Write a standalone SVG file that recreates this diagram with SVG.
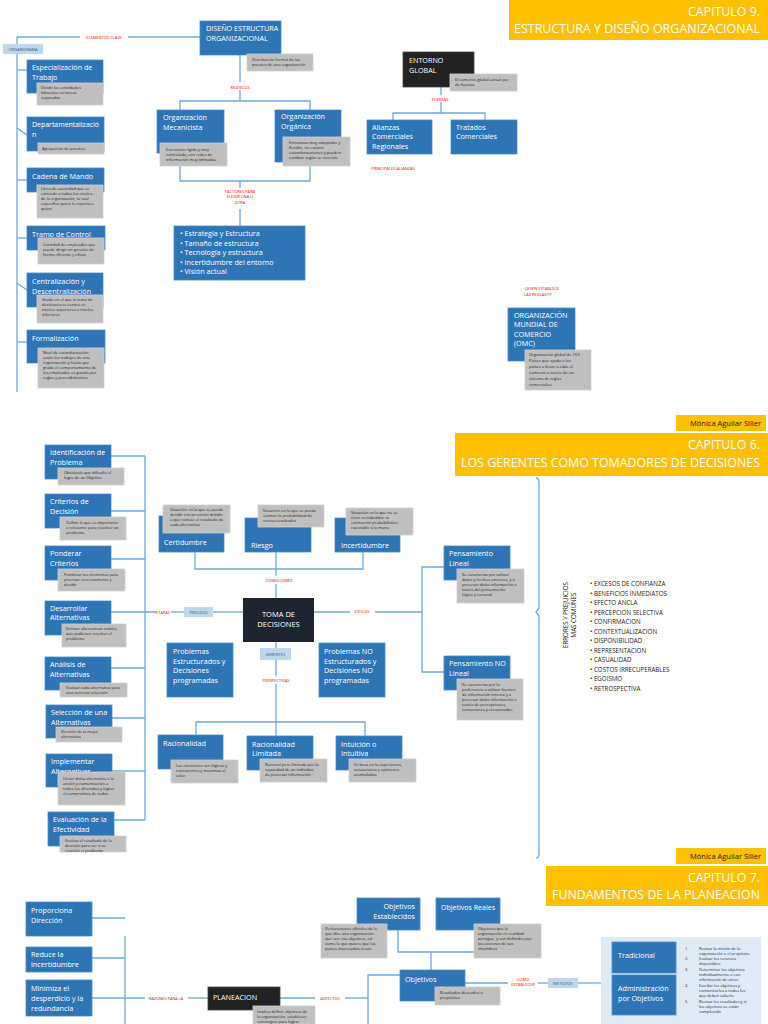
<svg xmlns="http://www.w3.org/2000/svg" width="768" height="1024" viewBox="0 0 768 1024">
<style>
text{font-family:"Open Sans","Noto Sans",sans-serif}
.b{fill:#2e75b6;stroke:#4a8ccc;stroke-width:0.8}
.k{fill:#222;stroke:#444;stroke-width:0.8}
.d{fill:#1f2530}
.g{fill:#bfbfbf;stroke:#cfcfcf;stroke-width:0.8}
.y{fill:#ffc000}
.lb{fill:#bdd7ee}
.t{fill:#fff;font-size:7.2px}
.n{fill:#222;font-size:4px}
.r{fill:#ff0000;font-size:4px;text-anchor:middle}
.h{fill:#fff;font-size:13px;text-anchor:end}
.c line,.c path,.c polyline{stroke:#6fa8dc;stroke-width:1.3;fill:none}
.s{fill:#44546a;font-size:4px;text-anchor:middle}
.li{fill:#222;font-size:6.2px}
</style>
<rect width="768" height="1024" fill="#fff"/>

<!-- headers -->
<g id="hdr9"><rect class="y" x="509" y="0" width="259" height="40"/><text class="h" x="760" y="16" textLength="72" lengthAdjust="spacingAndGlyphs">CAPITULO 9.</text><text class="h" x="760" y="33" textLength="246" lengthAdjust="spacingAndGlyphs">ESTRUCTURA Y DISEÑO ORGANIZACIONAL</text></g>
<g id="autor1"><rect class="y" x="676" y="415" width="90" height="16"/><text x="761" y="426" font-size="7.5" text-anchor="end" fill="#222">Mónica Aguilar Siller</text></g>
<g id="hdr6"><rect class="y" x="455" y="433" width="313" height="43"/><text class="h" x="760" y="449" textLength="72" lengthAdjust="spacingAndGlyphs">CAPITULO 6.</text><text class="h" x="760" y="467" textLength="299" lengthAdjust="spacingAndGlyphs">LOS GERENTES COMO TOMADORES DE DECISIONES</text></g>
<g id="autor2"><rect class="y" x="676" y="848" width="90" height="16"/><text x="761" y="859" font-size="7.5" text-anchor="end" fill="#222">Mónica Aguilar Siller</text></g>
<g id="hdr7"><rect class="y" x="546" y="866" width="222" height="40"/><text class="h" x="760" y="882" textLength="72" lengthAdjust="spacingAndGlyphs">CAPITULO 7.</text><text class="h" x="760" y="899" textLength="208" lengthAdjust="spacingAndGlyphs">FUNDAMENTOS DE LA PLANEACION</text></g>

<g class="c" id="connectors">
<line x1="17" y1="37" x2="17" y2="392"/>
<polyline points="17,37 80,37"/><polyline points="128,37 200,37"/>
<line x1="17" y1="70" x2="27" y2="70"/><line x1="17" y1="128" x2="27" y2="135"/><line x1="17" y1="180" x2="27" y2="180"/>
<line x1="17" y1="238" x2="27" y2="238"/><line x1="17" y1="283" x2="27" y2="290"/><line x1="17" y1="342" x2="27" y2="342"/>
<line x1="240" y1="55" x2="240" y2="82"/><line x1="240" y1="90" x2="240" y2="101"/>
<polyline points="180,110 180,101 310,101 310,110"/>
<polyline points="180,166 180,181 310,181 310,166"/>
<line x1="240" y1="181" x2="240" y2="188"/><line x1="240" y1="209" x2="240" y2="226"/>
<line x1="441" y1="87" x2="441" y2="95"/><line x1="441" y1="102" x2="441" y2="113"/>
<polyline points="393,120 393,113 485,113 485,120"/>
<line x1="145" y1="456" x2="145" y2="820"/>
<line x1="111" y1="456" x2="145" y2="456"/><line x1="111" y1="511" x2="145" y2="511"/><line x1="111" y1="559" x2="145" y2="559"/>
<line x1="111" y1="612" x2="156" y2="612"/><line x1="111" y1="668" x2="145" y2="668"/><line x1="111" y1="718" x2="145" y2="718"/>
<line x1="111" y1="771" x2="145" y2="771"/><line x1="111" y1="820" x2="145" y2="820"/>
<line x1="171" y1="612" x2="184" y2="612"/><line x1="213" y1="612" x2="243" y2="612"/>
<polyline points="195,552 195,569 363,569 363,552"/><line x1="276" y1="552" x2="276" y2="576"/><line x1="276" y1="584" x2="276" y2="598"/>
<line x1="314" y1="612" x2="350" y2="612"/><line x1="375" y1="612" x2="422" y2="612"/>
<polyline points="444,567 422,567 422,672 444,672"/>
<path d="M536,478 Q539,478 539,482 L539,608 L536,612 L539,616 L539,854 Q539,858 536,858"/>
<line x1="276" y1="642" x2="276" y2="648"/><line x1="276" y1="660" x2="276" y2="676"/><line x1="276" y1="684" x2="276" y2="722"/>
<polyline points="196,735 196,722 365,722 365,736"/><line x1="276" y1="722" x2="276" y2="736"/>
<line x1="125" y1="936" x2="125" y2="1024"/>
<line x1="92" y1="918" x2="125" y2="918"/><line x1="92" y1="958" x2="125" y2="958"/><line x1="92" y1="998" x2="145" y2="998"/>
<line x1="188" y1="998" x2="208" y2="998"/>
<line x1="280" y1="998" x2="315" y2="998"/><line x1="345" y1="998" x2="368" y2="998"/>
<polyline points="400,975 368,975 368,1024"/>
<polyline points="398,930 398,952 480,952 480,930"/><line x1="431" y1="952" x2="431" y2="970"/>
<line x1="465" y1="983" x2="508" y2="983"/><line x1="538" y1="983" x2="548" y2="983"/><line x1="578" y1="983" x2="601" y2="983"/>
</g>

<g id="organigrama"><rect class="lb" x="3" y="44" width="40" height="10"/><text class="s" x="23" y="50.5">ORGANIGRAMA</text></g>
<text class="r" x="104" y="39">ELEMENTOS CLAVE</text>
<g id="espec"><rect class="b" x="27" y="60" width="76" height="33"/><text class="t" x="32" y="70">Especialización de</text><text class="t" x="32" y="80">Trabajo</text>
<rect class="g" x="37" y="83" width="66" height="22"/><text class="n" x="41" y="89">Dividir las actividades</text><text class="n" x="41" y="94">laborales en tareas</text><text class="n" x="41" y="99">separadas</text></g>
<g id="depto"><rect class="b" x="27" y="117" width="77" height="34"/><text class="t" x="32" y="127" textLength="67" lengthAdjust="spacingAndGlyphs">Departamentalizació</text><text class="t" x="32" y="137">n</text>
<rect class="g" x="38" y="143" width="66" height="11"/><text class="n" x="42" y="150">Agrupación de puestos</text></g>
<g id="cadena"><rect class="b" x="27" y="168" width="77" height="24"/><text class="t" x="32" y="179">Cadena de Mando</text>
<rect class="g" x="37" y="185" width="66" height="33"/><text class="n" x="41" y="190">Línea de autoridad que se</text><text class="n" x="41" y="195">extiende a todos los niveles</text><text class="n" x="41" y="200">de la organización, la cual</text><text class="n" x="41" y="205">especifica quien le reporta a</text><text class="n" x="41" y="210">quien</text></g>
<g id="tramo"><rect class="b" x="27" y="226" width="78" height="24"/><text class="t" x="32" y="237">Tramo de Control</text>
<rect class="g" x="38" y="238" width="66" height="26"/><text class="n" x="43" y="246">Cantidad de empleados que</text><text class="n" x="43" y="251">puede dirigir un gerente de</text><text class="n" x="43" y="256">forma eficiente y eficaz</text></g>
<g id="central"><rect class="b" x="27" y="273" width="76" height="34"/><text class="t" x="32" y="284">Centralización y</text><text class="t" x="32" y="294">Descentralización</text>
<rect class="g" x="37" y="295" width="66" height="28"/><text class="n" x="42" y="301">Grado en el que la toma de</text><text class="n" x="42" y="306">decisiones se centra en</text><text class="n" x="42" y="311">niveles superiores o niveles</text><text class="n" x="42" y="316">inferiores</text></g>
<g id="formal"><rect class="b" x="27" y="330" width="78" height="33"/><text class="t" x="32" y="341">Formalización</text>
<rect class="g" x="38" y="348" width="66" height="40"/><text class="n" x="43" y="354">Nivel de estandarización</text><text class="n" x="43" y="359">están los trabajos de una</text><text class="n" x="43" y="364">organización y hasta que</text><text class="n" x="43" y="369">grado el comportamiento de</text><text class="n" x="43" y="374">los empleados es guiado por</text><text class="n" x="43" y="379">reglas y procedimientos</text></g>
<g id="diseno"><rect class="b" x="200" y="21" width="81" height="34"/><text class="t" x="206" y="31">DISEÑO ESTRUCTURA</text><text class="t" x="206" y="41">ORGANIZACIONAL</text>
<rect class="g" x="247" y="54" width="66" height="17"/><text class="n" x="252" y="61">Distribución formal de los</text><text class="n" x="252" y="66">puestos de una organización</text></g>
<text class="r" x="240" y="89">MODELOS</text>
<g id="mecan"><rect class="b" x="157" y="110" width="67" height="43"/><text class="t" x="163" y="120">Organización</text><text class="t" x="163" y="130">Mecanicista</text>
<rect class="g" x="160" y="143" width="67" height="23"/><text class="n" x="166" y="151">Estructura rígida y muy</text><text class="n" x="166" y="156">controlada, con redes de</text><text class="n" x="166" y="161">información muy limitadas.</text></g>
<g id="organica"><rect class="b" x="275" y="110" width="66" height="52"/><text class="t" x="281" y="119">Organización</text><text class="t" x="281" y="129">Orgánica</text>
<rect class="g" x="283" y="137" width="67" height="29"/><text class="n" x="289" y="144">Estructura muy adaptable y</text><text class="n" x="289" y="149">flexible, no existen</text><text class="n" x="289" y="154">estandarizaciones y pueden</text><text class="n" x="289" y="159">cambiar según se necesite</text></g>
<text class="r" x="240" y="193">FACTORES PARA</text><text class="r" x="240" y="198">ELEGIR UNA U</text><text class="r" x="240" y="204">OTRA</text>
<g id="factores"><rect class="b" x="174" y="226" width="131" height="54"/>
<text class="t" x="180" y="236">•   Estrategia y Estructura</text><text class="t" x="180" y="246">•   Tamaño de estructura</text><text class="t" x="180" y="255">•   Tecnología y estructura</text><text class="t" x="180" y="265">•   Incertidumbre del entorno</text><text class="t" x="180" y="274">•   Visión actual</text></g>
<g id="entorno"><rect class="k" x="403" y="52" width="71" height="35"/><text class="t" x="409" y="63">ENTORNO</text><text class="t" x="409" y="73">GLOBAL</text>
<rect class="g" x="450" y="74" width="67" height="17"/><text class="n" x="455" y="81">El comercio global actual por</text><text class="n" x="455" y="86">do fuerzas</text></g>
<text class="r" x="440" y="101">FUERZAS</text>
<g id="alianzas"><rect class="b" x="367" y="120" width="65" height="34"/><text class="t" x="372" y="130">Alianzas</text><text class="t" x="372" y="139">Comerciales</text><text class="t" x="372" y="149">Regionales</text></g>
<g id="tratados"><rect class="b" x="451" y="120" width="66" height="34"/><text class="t" x="456" y="130">Tratados</text><text class="t" x="456" y="139">Comerciales</text></g>
<text class="r" x="393" y="170">PRINCIPALES ALIANZAS</text>
<text class="r" x="542" y="290">QUIEN ESTABLECE</text><text class="r" x="538" y="296">LAS REGLAS???</text>
<g id="omc"><rect class="b" x="508" y="308" width="67" height="53"/><text class="t" x="514" y="318">ORGANIZACIÓN</text><text class="t" x="514" y="327">MUNDIAL DE</text><text class="t" x="514" y="337">COMERCIO</text><text class="t" x="514" y="346">(OMC)</text>
<rect class="g" x="525" y="350" width="66" height="40"/><text class="n" x="529" y="356">Organización global de 153</text><text class="n" x="529" y="362">Países que ayuda a los</text><text class="n" x="529" y="368">países a llevar a cabo el</text><text class="n" x="529" y="374">comercio a través de un</text><text class="n" x="529" y="380">sistema de reglas</text><text class="n" x="529" y="386">comerciales.</text></g>

<g id="ident"><rect class="b" x="45" y="445" width="66" height="34"/><text class="t" x="50" y="455">Identificación de</text><text class="t" x="50" y="465">Problema</text>
<rect class="g" x="58" y="468" width="66" height="17"/><text class="n" x="64" y="474">Obstáculo que dificulta el</text><text class="n" x="64" y="479">logro de un Objetivo</text></g>
<g id="crit"><rect class="b" x="45" y="494" width="66" height="34"/><text class="t" x="50" y="504">Criterios de</text><text class="t" x="50" y="514">Decisión</text>
<rect class="g" x="60" y="517" width="66" height="23"/><text class="n" x="66" y="524">Definir lo que es importante</text><text class="n" x="66" y="529">o relevante para resolver un</text><text class="n" x="66" y="534">problema</text></g>
<g id="pond"><rect class="b" x="45" y="546" width="66" height="34"/><text class="t" x="50" y="556">Ponderar</text><text class="t" x="50" y="566">Criterios</text>
<rect class="g" x="58" y="569" width="67" height="22"/><text class="n" x="64" y="576">Ponderar los elementos para</text><text class="n" x="64" y="581">priorizar correctamente y</text><text class="n" x="64" y="586">decidir</text></g>
<g id="desa"><rect class="b" x="45" y="601" width="66" height="34"/><text class="t" x="50" y="611">Desarrollar</text><text class="t" x="50" y="620">Alternativas</text>
<rect class="g" x="62" y="624" width="64" height="23"/><text class="n" x="66" y="630">Enlistar alternativas viables</text><text class="n" x="66" y="635">que pudiesen resolver el</text><text class="n" x="66" y="640">problema</text></g>
<g id="anal"><rect class="b" x="45" y="657" width="66" height="33"/><text class="t" x="50" y="667">Análisis de</text><text class="t" x="50" y="677">Alternativas</text>
<rect class="g" x="60" y="683" width="67" height="14"/><text class="n" x="66" y="689">Evaluar cada alternativa para</text><text class="n" x="66" y="694">una correcta selección</text></g>
<g id="sele"><rect class="b" x="46" y="705" width="66" height="33"/><text class="t" x="51" y="715">Selección de una</text><text class="t" x="51" y="725">Alternativas</text>
<rect class="g" x="56" y="727" width="66" height="15"/><text class="n" x="61" y="733">Elección de la mejor</text><text class="n" x="61" y="738">alternativa</text></g>
<g id="impl"><rect class="b" x="46" y="754" width="66" height="33"/><text class="t" x="51" y="764">Implementar</text><text class="t" x="51" y="774">Alternativas</text>
<rect class="g" x="58" y="772" width="67" height="33"/><text class="n" x="63" y="780">Llevar dicha alternativa a la</text><text class="n" x="63" y="785">acción y comunicación a</text><text class="n" x="63" y="790">todos los afectados y lograr</text><text class="n" x="63" y="795">el compromiso de todos</text></g>
<g id="eval"><rect class="b" x="48" y="812" width="66" height="34"/><text class="t" x="53" y="822">Evaluación de la</text><text class="t" x="53" y="832">Efectividad</text>
<rect class="g" x="60" y="836" width="66" height="16"/><text class="n" x="65" y="842">Evaluar el resultado de la</text><text class="n" x="65" y="847">decisión para ver si se</text><text class="n" x="65" y="852">resolvió el problema</text></g>
<text class="r" x="163" y="614">ETAPAS</text>
<g id="proceso"><rect class="lb" x="184" y="607" width="29" height="10"/><text class="s" x="198.5" y="613.5">PROCESO</text></g>
<g id="certi"><rect class="b" x="159" y="516" width="65" height="36"/><text class="t" x="164" y="545">Certidumbre</text>
<rect class="g" x="163" y="505" width="67" height="28"/><text class="n" x="170" y="511">Situación en la que se puede</text><text class="n" x="170" y="516">decidir con precisión debido</text><text class="n" x="170" y="521">a que conoce el resultado de</text><text class="n" x="170" y="526">cada alternativa</text></g>
<g id="riesgo"><rect class="b" x="245" y="518" width="66" height="34"/><text class="t" x="251" y="548">Riesgo</text>
<rect class="g" x="258" y="505" width="66" height="22"/><text class="n" x="263" y="512">Situación en la que se puede</text><text class="n" x="263" y="517">estimar la probabilidad de</text><text class="n" x="263" y="522">ciertos resultados</text></g>
<g id="incerti"><rect class="b" x="335" y="518" width="65" height="34"/><text class="t" x="341" y="548">Incertidumbre</text>
<rect class="g" x="346" y="508" width="67" height="27"/><text class="n" x="351" y="514">Situación en la que no se</text><text class="n" x="351" y="519">tiene certidumbre ni</text><text class="n" x="351" y="524">estimación probabilística</text><text class="n" x="351" y="529">razonable a la mano</text></g>
<text class="r" x="279" y="582">CONDICIONES</text>
<g id="toma"><rect class="d" x="243" y="598" width="71" height="44"/><text x="278.5" y="617" fill="#fff" font-size="7.5" text-anchor="middle">TOMA DE</text><text x="278.5" y="627" fill="#fff" font-size="7.5" text-anchor="middle">DECISIONES</text></g>
<text class="r" x="362" y="613">ESTILOS</text>
<g id="plineal"><rect class="b" x="444" y="546" width="66" height="34"/><text class="t" x="449" y="556">Pensamiento</text><text class="t" x="449" y="566">Lineal</text>
<rect class="g" x="457" y="569" width="67" height="34"/><text class="n" x="462" y="576">Se caracteriza por utilizar</text><text class="n" x="462" y="581">datos y hechos externos, y a</text><text class="n" x="462" y="586">procesar dicha información a</text><text class="n" x="462" y="591">través del pensamiento</text><text class="n" x="462" y="596">lógico y racional</text></g>
<g id="pnolineal"><rect class="b" x="444" y="656" width="66" height="34"/><text class="t" x="449" y="666">Pensamiento NO</text><text class="t" x="449" y="676">Lineal</text>
<rect class="g" x="457" y="679" width="66" height="41"/><text class="n" x="462" y="686">Se caracteriza por la</text><text class="n" x="462" y="691">preferencia a utilizar fuentes</text><text class="n" x="462" y="696">de información interna y a</text><text class="n" x="462" y="701">procesar dicha información a</text><text class="n" x="462" y="706">través de percepciones,</text><text class="n" x="462" y="711">sensaciones y corazonadas</text></g>
<g id="errores"><text transform="translate(568,615) rotate(-90)" font-size="6.2" fill="#222" text-anchor="middle">ERRORES Y PREJUICIOS</text><text transform="translate(576,615) rotate(-90)" font-size="6.2" fill="#222" text-anchor="middle">MAS COMUNES</text>
<text class="li" x="590" y="586">•   EXCESOS DE CONFIANZA</text><text class="li" x="590" y="595.5">•   BENEFICIOS INMEDIATOS</text><text class="li" x="590" y="605">•   EFECTO ANCLA</text><text class="li" x="590" y="614.5">•   PERCEPCION SELECTIVA</text><text class="li" x="590" y="624">•   CONFIRMACION</text><text class="li" x="590" y="633.5">•   CONTEXTUALIZACION</text><text class="li" x="590" y="643">•   DISPONIBILIDAD</text><text class="li" x="590" y="652.5">•   REPRESENTACION</text><text class="li" x="590" y="662">•   CASUALIDAD</text><text class="li" x="590" y="671.5">•   COSTOS IRRECUPERABLES</text><text class="li" x="590" y="681">•   EGOISMO</text><text class="li" x="590" y="690.5">•   RETROSPECTIVA</text></g>
<g id="gerentes"><rect class="lb" x="260" y="648" width="31" height="12"/><text class="s" x="275.5" y="655.5">GERENTES</text></g>
<text class="r" x="276" y="682">PERSPECTIVAS</text>
<g id="pestruct"><rect class="b" x="167" y="643" width="66" height="54"/><text class="t" x="173" y="654">Problemas</text><text class="t" x="173" y="664">Estructurados y</text><text class="t" x="173" y="673">Decisiones</text><text class="t" x="173" y="683">programadas</text></g>
<g id="pnoestruct"><rect class="b" x="319" y="643" width="66" height="54"/><text class="t" x="324" y="654">Problemas NO</text><text class="t" x="324" y="664">Estructurados y</text><text class="t" x="324" y="673">Decisiones NO</text><text class="t" x="324" y="683">programadas</text></g>
<g id="racional"><rect class="b" x="158" y="735" width="65" height="34"/><text class="t" x="163" y="746">Racionalidad</text>
<rect class="g" x="171" y="760" width="67" height="23"/><text class="n" x="176" y="767">Las elecciones son lógicas y</text><text class="n" x="176" y="772">consistentes y maximiza el</text><text class="n" x="176" y="777">valor</text></g>
<g id="limitada"><rect class="b" x="247" y="736" width="66" height="34"/><text class="t" x="252" y="747">Racionalidad</text><text class="t" x="252" y="756">Limitada</text>
<rect class="g" x="260" y="759" width="67" height="23"/><text class="n" x="265" y="766">Racional pero limitada por la</text><text class="n" x="265" y="771">capacidad de un individuo</text><text class="n" x="265" y="776">de procesar información</text></g>
<g id="intuicion"><rect class="b" x="336" y="736" width="66" height="34"/><text class="t" x="341" y="747">Intuición o</text><text class="t" x="341" y="756">Intuitiva</text>
<rect class="g" x="349" y="759" width="67" height="23"/><text class="n" x="354" y="766">Se basa en la experiencia,</text><text class="n" x="354" y="771">sensaciones y opiniones</text><text class="n" x="354" y="776">acumuladas</text></g>

<g id="proporciona"><rect class="b" x="26" y="902" width="66" height="34"/><text class="t" x="31" y="913">Proporciona</text><text class="t" x="31" y="923">Dirección</text></g>
<g id="reduce"><rect class="b" x="26" y="947" width="66" height="25"/><text class="t" x="31" y="957">Reduce la</text><text class="t" x="31" y="967">incertidumbre</text></g>
<g id="minimiza"><rect class="b" x="26" y="980" width="66" height="36"/><text class="t" x="31" y="991">Minimiza el</text><text class="t" x="31" y="1001">desperdicio y la</text><text class="t" x="31" y="1011">redundancia</text></g>
<text class="r" x="166" y="1000">RAZONES PARA LA</text>
<g id="planeacion"><rect class="k" x="208" y="987" width="72" height="23"/><text class="t" x="213" y="1000">PLANEACION</text>
<rect class="g" x="253" y="1006" width="62" height="18"/><text class="n" x="257" y="1013">Implica definir objetivos de</text><text class="n" x="257" y="1018">la organización, establecer</text><text class="n" x="257" y="1023">estrategias para lograr</text></g>
<text class="r" x="330" y="1000">ASPECTOS</text>
<g id="objest"><rect class="b" x="357" y="898" width="63" height="32"/><text class="t" x="415" y="909" text-anchor="end">Objetivos</text><text class="t" x="415" y="919" text-anchor="end">Establecidos</text>
<rect class="g" x="321" y="924" width="66" height="34"/><text class="n" x="325" y="930">Declaraciones oficiales de lo</text><text class="n" x="325" y="935">que dice una organización</text><text class="n" x="325" y="940">que son sus objetivos, así</text><text class="n" x="325" y="945">como lo que quiere que las</text><text class="n" x="325" y="950">partes interesadas crean</text></g>
<g id="objreal"><rect class="b" x="436" y="898" width="64" height="32"/><text class="t" x="441" y="910" textLength="54" lengthAdjust="spacingAndGlyphs">Objetivos Reales</text>
<rect class="g" x="474" y="924" width="67" height="34"/><text class="n" x="478" y="930">Objetivos que la</text><text class="n" x="478" y="935">organización en realidad</text><text class="n" x="478" y="940">persigue, y son definidos por</text><text class="n" x="478" y="945">las acciones de sus</text><text class="n" x="478" y="950">miembros</text></g>
<g id="objetivos"><rect class="b" x="400" y="970" width="65" height="31"/><text class="t" x="405" y="982">Objetivos</text>
<rect class="g" x="435" y="987" width="65" height="18"/><text class="n" x="440" y="994">Resultados deseados o</text><text class="n" x="440" y="999">propósitos</text></g>
<text class="r" x="523" y="981">COMO</text><text class="r" x="523" y="986">ESTABLECER</text>
<g id="metodos"><rect class="lb" x="548" y="978" width="30" height="10"/><text class="s" x="563" y="984.5">METODOS</text></g>
<g id="metpanel"><rect fill="#deebf7" x="601" y="937" width="160" height="87"/>
<rect class="b" x="612" y="942" width="64" height="31"/><text class="t" x="618" y="958">Tradicional</text>
<rect class="b" x="612" y="975" width="64" height="40"/><text class="t" x="618" y="991">Administración</text><text class="t" x="618" y="1001">por Objetivos</text>
<g class="n"><text x="685" y="950">1.</text><text x="699" y="950">Revisar la misión de la</text><text x="699" y="955">organización o el propósito</text><text x="685" y="960">2.</text><text x="699" y="960">Evaluar los recursos</text><text x="699" y="965">disponibles</text><text x="685" y="971">3.</text><text x="699" y="971">Determinar los objetivos</text><text x="699" y="976">individualmente o con</text><text x="699" y="981">información de otros</text><text x="685" y="987">4.</text><text x="699" y="987">Escribir los objetivos y</text><text x="699" y="992">comunicarlos a todos los</text><text x="699" y="997">que deben saberlo</text><text x="685" y="1003">5.</text><text x="699" y="1003">Revisar los resultados y si</text><text x="699" y="1008">los objetivos se están</text><text x="699" y="1013">cumpliendo</text></g></g>
</svg>
